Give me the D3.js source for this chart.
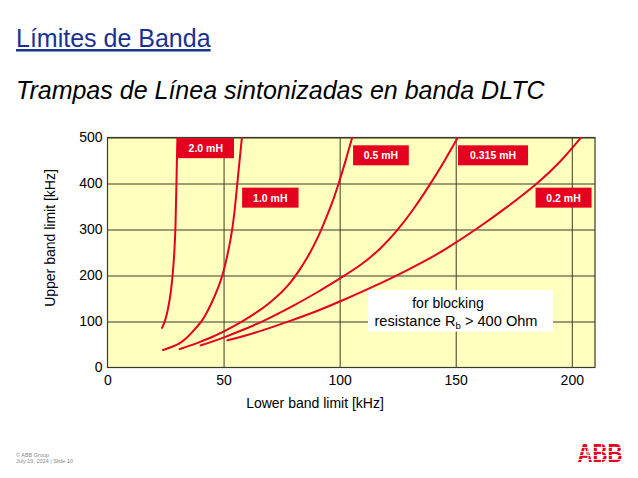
<!DOCTYPE html>
<html><head><meta charset="utf-8">
<script src="https://cdn.jsdelivr.net/npm/d3@7"></script>
<style>
body{margin:0;background:#fff;}
svg{display:block;font-family:Arial,"Liberation Sans",sans-serif;}
</style></head>
<body>
<svg id="c" width="638" height="478"></svg>
<script>
// ---- data ----
const xTicks = [0, 50, 100, 150, 200];
const yTicks = [0, 100, 200, 300, 400, 500];
const series = ["2.0 mH", "1.0 mH", "0.5 mH", "0.315 mH", "0.2 mH"];
const s20  = [[23.5,86],[24.3,95],[25.1,106],[26.2,130],[27.2,160],[28.1,200],[28.8,250],[29.3,300],[29.7,400],[30.1,500]];
const s10  = [[23.9,38],[28,45],[31,52],[34,63],[36.5,77],[38.8,90],[40.7,101],[43,121],[45.4,146],[47.6,172],[49.6,200],[51.5,240],[53.2,282],[54.6,330],[55.9,400],[57.9,500]];
const s05  = [[31.1,40],[36,48],[40,56],[45,66],[50,78],[55,91],[60,106],[65,122],[70,141],[75,163],[79,185],[82.5,210],[86,238],[89,266],[92,298],[95,335],[97.5,368],[99.6,400],[102.5,448],[105.4,500]];
const s0315= [[40.1,48],[45,56],[50,65],[58,81],[67,100],[80,134],[90,162],[100,193],[110,225],[118,260],[125,298],[132,345],[138.7,396],[145,447],[150.9,500]];
const s02  = [[51.6,59],[60,70],[70,86],[78,100],[90,122],[100,143],[112,170],[124.4,199],[136,229],[146,258],[158.8,300],[172,348],[185.3,400],[195,446],[204,500]];
const seriesData = [s20, s10, s05, s0315, s02];
// label anchor values (data coords of label box top-left)
const labelPos = [[30.2,498.5],[58,391],[105.8,483],[151,483],[184.4,391]];

const svg = d3.select("#c");
const red = "#E4001E";
const x = d3.scaleLinear().domain([0,210]).range([107.5,595]);
const y = d3.scaleLinear().domain([0,500]).range([367.5,137.5]);

// titles
svg.append("text").attr("x",16).attr("y",47).attr("font-size",25).attr("fill","#1b3190")
  .attr("text-decoration","underline").text("Límites de Banda");
svg.append("text").attr("x",16).attr("y",99).attr("font-size",25).attr("font-style","italic")
  .attr("fill","#000").text("Trampas de Línea sintonizadas en banda DLTC");

// plot background
svg.append("rect").attr("x",x(0)).attr("y",y(500)).attr("width",x(210)-x(0)).attr("height",y(0)-y(500))
  .attr("fill","#FFFFBE");

// grid
const gx = svg.append("g").attr("transform",`translate(0,${y(0)})`)
  .call(d3.axisBottom(x).tickValues(xTicks.slice(1)).tickSize(-(y(0)-y(500))).tickFormat(""));
gx.select(".domain").remove();
gx.selectAll("line").attr("stroke","#3a3a2a").attr("stroke-width",1);
const gy = svg.append("g").attr("transform",`translate(${x(0)},0)`)
  .call(d3.axisLeft(y).tickValues(yTicks.slice(1)).tickSize(-(x(210)-x(0))).tickFormat(""));
gy.select(".domain").remove();
gy.selectAll("line").attr("stroke","#3a3a2a").attr("stroke-width",1);

// frame
svg.append("rect").attr("x",x(0)).attr("y",y(500)).attr("width",x(210)-x(0)).attr("height",y(0)-y(500))
  .attr("fill","none").attr("stroke","#3a3a2a").attr("stroke-width",1.2);

// tick labels
const ax = svg.append("g").attr("transform",`translate(0,${y(0)})`)
  .call(d3.axisBottom(x).tickValues(xTicks).tickSize(0).tickPadding(8));
ax.select(".domain").remove();
ax.selectAll("text").attr("font-size",14).attr("font-family","Arial,'Liberation Sans',sans-serif").attr("fill","#000");
const ay = svg.append("g").attr("transform",`translate(${x(0)},0)`)
  .call(d3.axisLeft(y).tickValues(yTicks).tickSize(0).tickPadding(5));
ay.select(".domain").remove();
ay.selectAll("text").attr("font-size",14).attr("font-family","Arial,'Liberation Sans',sans-serif").attr("fill","#000");

// axis titles
svg.append("text").attr("x",315).attr("y",408).attr("text-anchor","middle").attr("font-size",14)
  .text("Lower band limit [kHz]");
svg.append("text").attr("transform","translate(55,238) rotate(-90)").attr("text-anchor","middle")
  .attr("font-size",14).text("Upper band limit [kHz]");

// curves
svg.append("clipPath").attr("id","pc").append("rect")
  .attr("x",x(0)).attr("y",y(500)-0.5).attr("width",x(210)-x(0)).attr("height",y(0)-y(500)+1);
const line = d3.line().x(d=>x(d[0])).y(d=>y(d[1])).curve(d3.curveBasis);
svg.append("g").attr("clip-path","url(#pc)").selectAll("path").data(seriesData).join("path")
  .attr("d",line).attr("fill","none").attr("stroke",red).attr("stroke-width",2).attr("stroke-linecap","round");

// series labels
const lw = [56.4,56.4,55.7,70,56];
series.forEach((s,i)=>{
  const px = x(labelPos[i][0]), py = y(labelPos[i][1]);
  svg.append("rect").attr("x",px).attr("y",py).attr("width",lw[i]).attr("height",20).attr("fill",red);
  svg.append("text").attr("x",px+lw[i]/2).attr("y",py+14).attr("text-anchor","middle")
    .attr("font-size",10.5).attr("font-weight","bold").attr("fill","#fff").text(s);
});

// annotation box
svg.append("rect").attr("x",368).attr("y",290).attr("width",185).attr("height",41.5).attr("fill","#fff");
svg.append("text").attr("x",448).attr("y",308).attr("text-anchor","middle").attr("font-size",14).text("for blocking");
const t2 = svg.append("text").attr("x",456).attr("y",326).attr("text-anchor","middle").attr("font-size",14.6);
t2.append("tspan").text("resistance R");
t2.append("tspan").attr("font-size",9.5).attr("dy",3).text("b");
t2.append("tspan").attr("dy",-3).text(" > 400 Ohm");

// footer
svg.append("text").attr("x",16).attr("y",457).attr("font-size",5.5).attr("fill","#888").text("© ABB Group");
svg.append("text").attr("x",16).attr("y",463).attr("font-size",5.5).attr("fill","#888").text("July 19, 2024 | Slide 10");

// ABB logo
const logo = svg.append("g");
logo.append("text").attr("x",600).attr("y",462).attr("text-anchor","middle").attr("font-size",25)
  .attr("font-weight","bold").attr("fill",red).attr("textLength",45).attr("lengthAdjust","spacingAndGlyphs").text("ABB");
[447.5,451.5,455.5,459.5].forEach(v=>logo.append("line").attr("x1",575).attr("x2",625).attr("y1",v).attr("y2",v).attr("stroke","#fff").attr("stroke-width",0.8));
[588,601.5].forEach(v=>logo.append("line").attr("x1",v).attr("x2",v).attr("y1",442).attr("y2",464).attr("stroke","#fff").attr("stroke-width",1));
</script>
</body></html>
